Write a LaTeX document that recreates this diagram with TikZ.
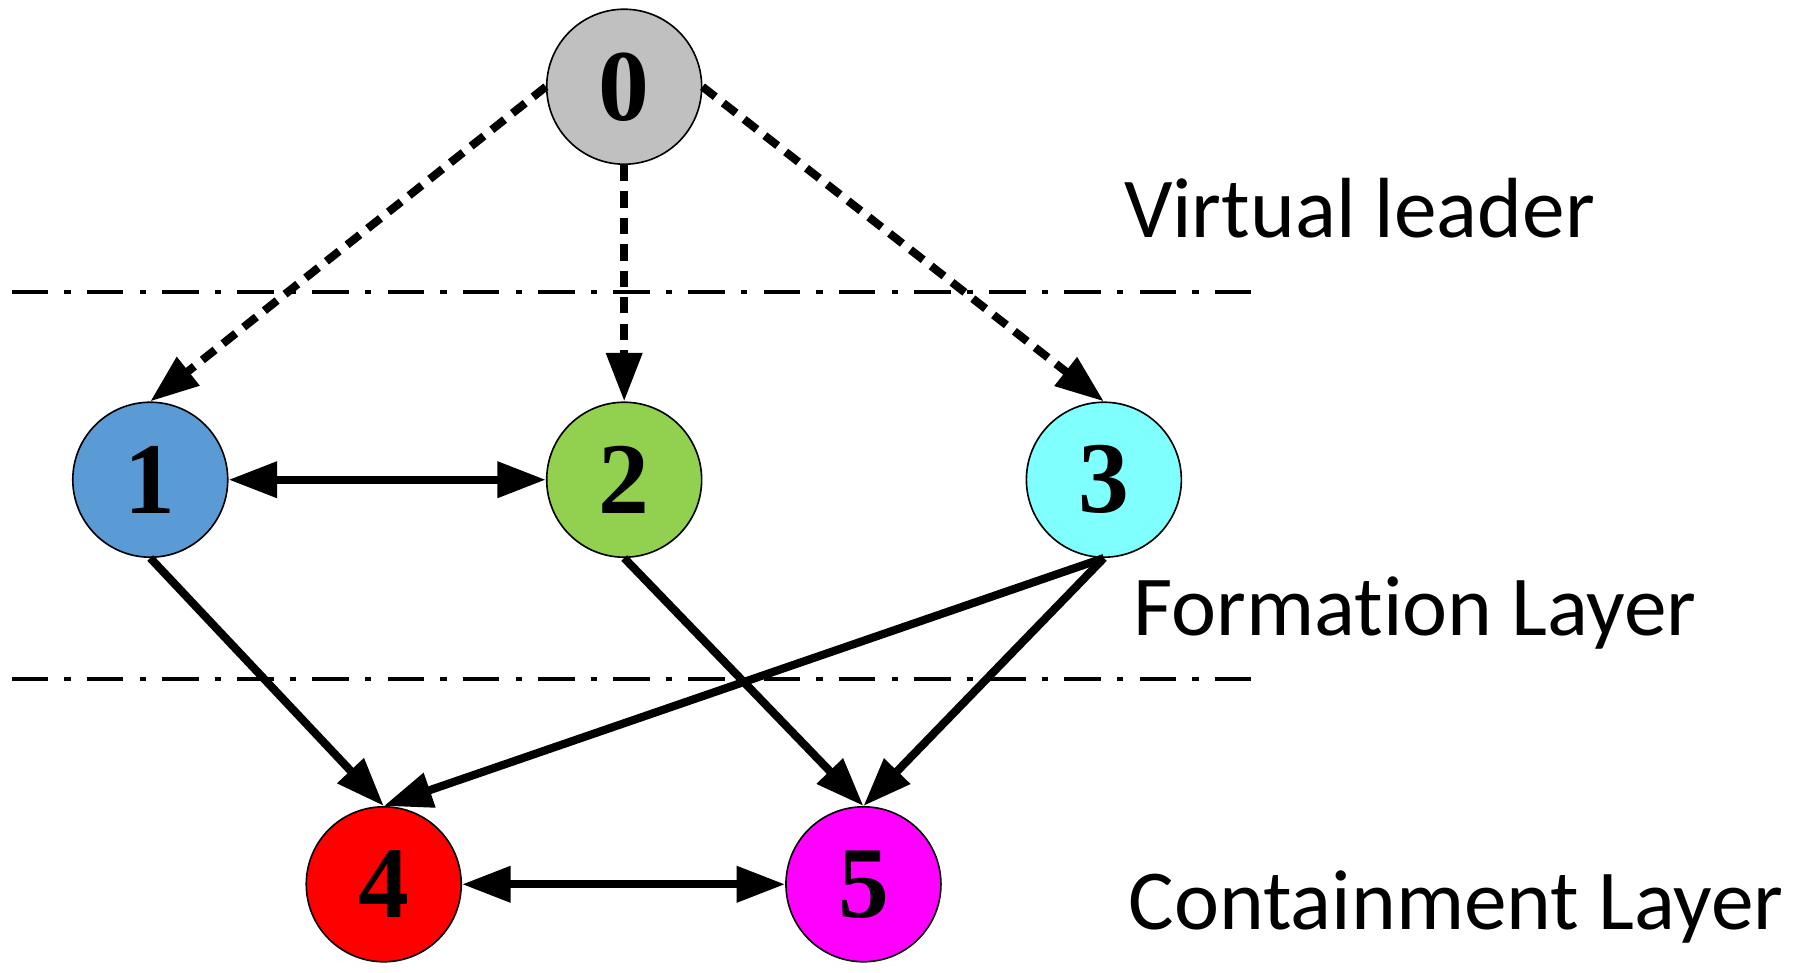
\documentclass[tikz,border=0pt]{standalone}
\usepackage{fontspec}
\setmainfont{Liberation Serif}
\newfontfamily\labelfont{Carlito}[Ligatures=NoCommon]
\usetikzlibrary{arrows.meta}
\definecolor{agray}{RGB}{192,192,192}
\definecolor{ablue}{RGB}{91,155,213}
\definecolor{agreen}{RGB}{146,208,80}
\definecolor{acyan}{RGB}{128,255,255}
\definecolor{ared}{RGB}{255,0,0}
\definecolor{amag}{RGB}{255,0,255}
\begin{document}
\begin{tikzpicture}[x=0.01cm,y=-0.01cm,
    agent/.style={draw, circle, minimum size=1.34cm, inner sep=0pt, font=\bfseries\fontsize{25}{25}\selectfont},
    tip/.style={Triangle[length=0.42cm,width=0.3cm]},
    link/.style={line width=2pt, -{Triangle[length=0.42cm,width=0.3cm]}},
    both/.style={line width=2pt, {Triangle[length=0.42cm,width=0.3cm]}-{Triangle[length=0.42cm,width=0.3cm]}},
    lead/.style={link, dash pattern=on 4pt off 2.5pt},
    layer/.style={line width=1pt, dash pattern=on 9pt off 4pt on 1.5pt off 4pt},
    tag/.style={anchor=west, font=\labelfont\fontsize{21}{21}\selectfont}]
\useasboundingbox (0,0) rectangle (1565,841);

\node[agent, fill=agray] (0) at (540,75) {0};
\node[agent, fill=ablue] (1) at (130,415) {1};
\node[agent, fill=agreen] (2) at (540,415) {2};
\node[agent, fill=acyan] (3) at (955,415) {3};
\node[agent, fill=ared] (4) at (332,765) {4};
\node[agent, fill=amag] (5) at (747,765) {5};

\draw[layer] (10,253) -- (1090,253);
\draw[layer] (10,587) -- (1090,587);

\draw[lead] (0.west) -- (1.north);
\draw[lead] (0.south) -- (2.north);
\draw[lead] (0.east) -- (3.north);
\draw[both] (1) -- (2);
\draw[both] (4) -- (5);
\draw[link] (1.south) -- (4.north);
\draw[link] (2.south) -- (5.north);
\draw[link] (3.south) -- (4.north);
\draw[link] (3.south) -- (5.north);

\node[tag] (vl) at (960,180) {Virtual leader};
\node[tag] (fl) at (968,530) {Formation Layer};
\node[tag] (cl) at (964,785) {Containment Layer};
\end{tikzpicture}
\end{document}
